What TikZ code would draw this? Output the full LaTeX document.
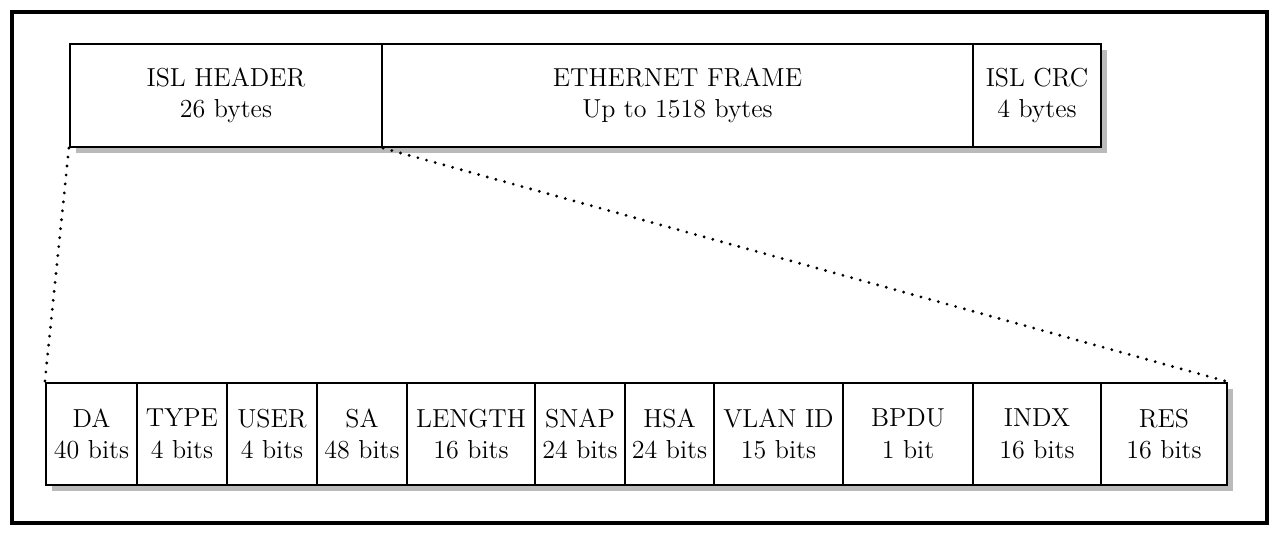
\documentclass[tikz,border=0pt]{standalone}
\usetikzlibrary{shadows}
\newcommand{\pxu}{0.02cm}
\tikzset{
  field/.style={draw, line width=1.3pt, fill=white, inner sep=0pt, align=center,
    font=\fontsize{14.8}{18}\selectfont,
    drop shadow={shadow xshift=6*\pxu, shadow yshift=-6*\pxu, fill=black!27, opacity=1}},
  topfield/.style={field, minimum height=103*\pxu},
  bitfield/.style={field, minimum height=102*\pxu},
  zoomline/.style={line width=1.8pt, line cap=round, dash pattern=on 0pt off 9*\pxu}
}
\begin{document}
\begin{tikzpicture}[x=\pxu, y=-\pxu]
      \useasboundingbox (0,0) rectangle (1280,538);
      \draw[line width=1.8pt] (12,12) rectangle (1267,523);
      \draw
        (226,95.5) node[topfield, minimum width=312*\pxu] (hdr){ISL HEADER\\26 bytes}
        (677.5,95.5) node[topfield, minimum width=591*\pxu] (eth){ETHERNET FRAME\\Up to 1518 bytes}
        (1037,95.5) node[topfield, minimum width=128*\pxu] (crc){ISL CRC\\4 bytes};
      \draw
        (91.5,434) node[bitfield, minimum width=91*\pxu] (da){DA\\40 bits}
        (182,434) node[bitfield, minimum width=90*\pxu] (type){TYPE\\4 bits}
        (272,434) node[bitfield, minimum width=90*\pxu] (user){USER\\4 bits}
        (362,434) node[bitfield, minimum width=90*\pxu] (sa){SA\\48 bits}
        (471,434) node[bitfield, minimum width=128*\pxu] (len){LENGTH\\16 bits}
        (580,434) node[bitfield, minimum width=90*\pxu] (snap){SNAP\\24 bits}
        (669.5,434) node[bitfield, minimum width=89*\pxu] (hsa){HSA\\24 bits}
        (778.5,434) node[bitfield, minimum width=129*\pxu] (vlan){VLAN ID\\15 bits}
        (908,434) node[bitfield, minimum width=130*\pxu] (bpdu){BPDU\\1 bit}
        (1037,434) node[bitfield, minimum width=128*\pxu] (indx){INDX\\16 bits}
        (1164,434) node[bitfield, minimum width=126*\pxu] (res){RES\\16 bits};
      \begin{scope}[zoomline]
        \draw (hdr.south west) to (da.north west);
        \draw (hdr.south east) to (res.north east);
      \end{scope}
    \end{tikzpicture}
\end{document}
